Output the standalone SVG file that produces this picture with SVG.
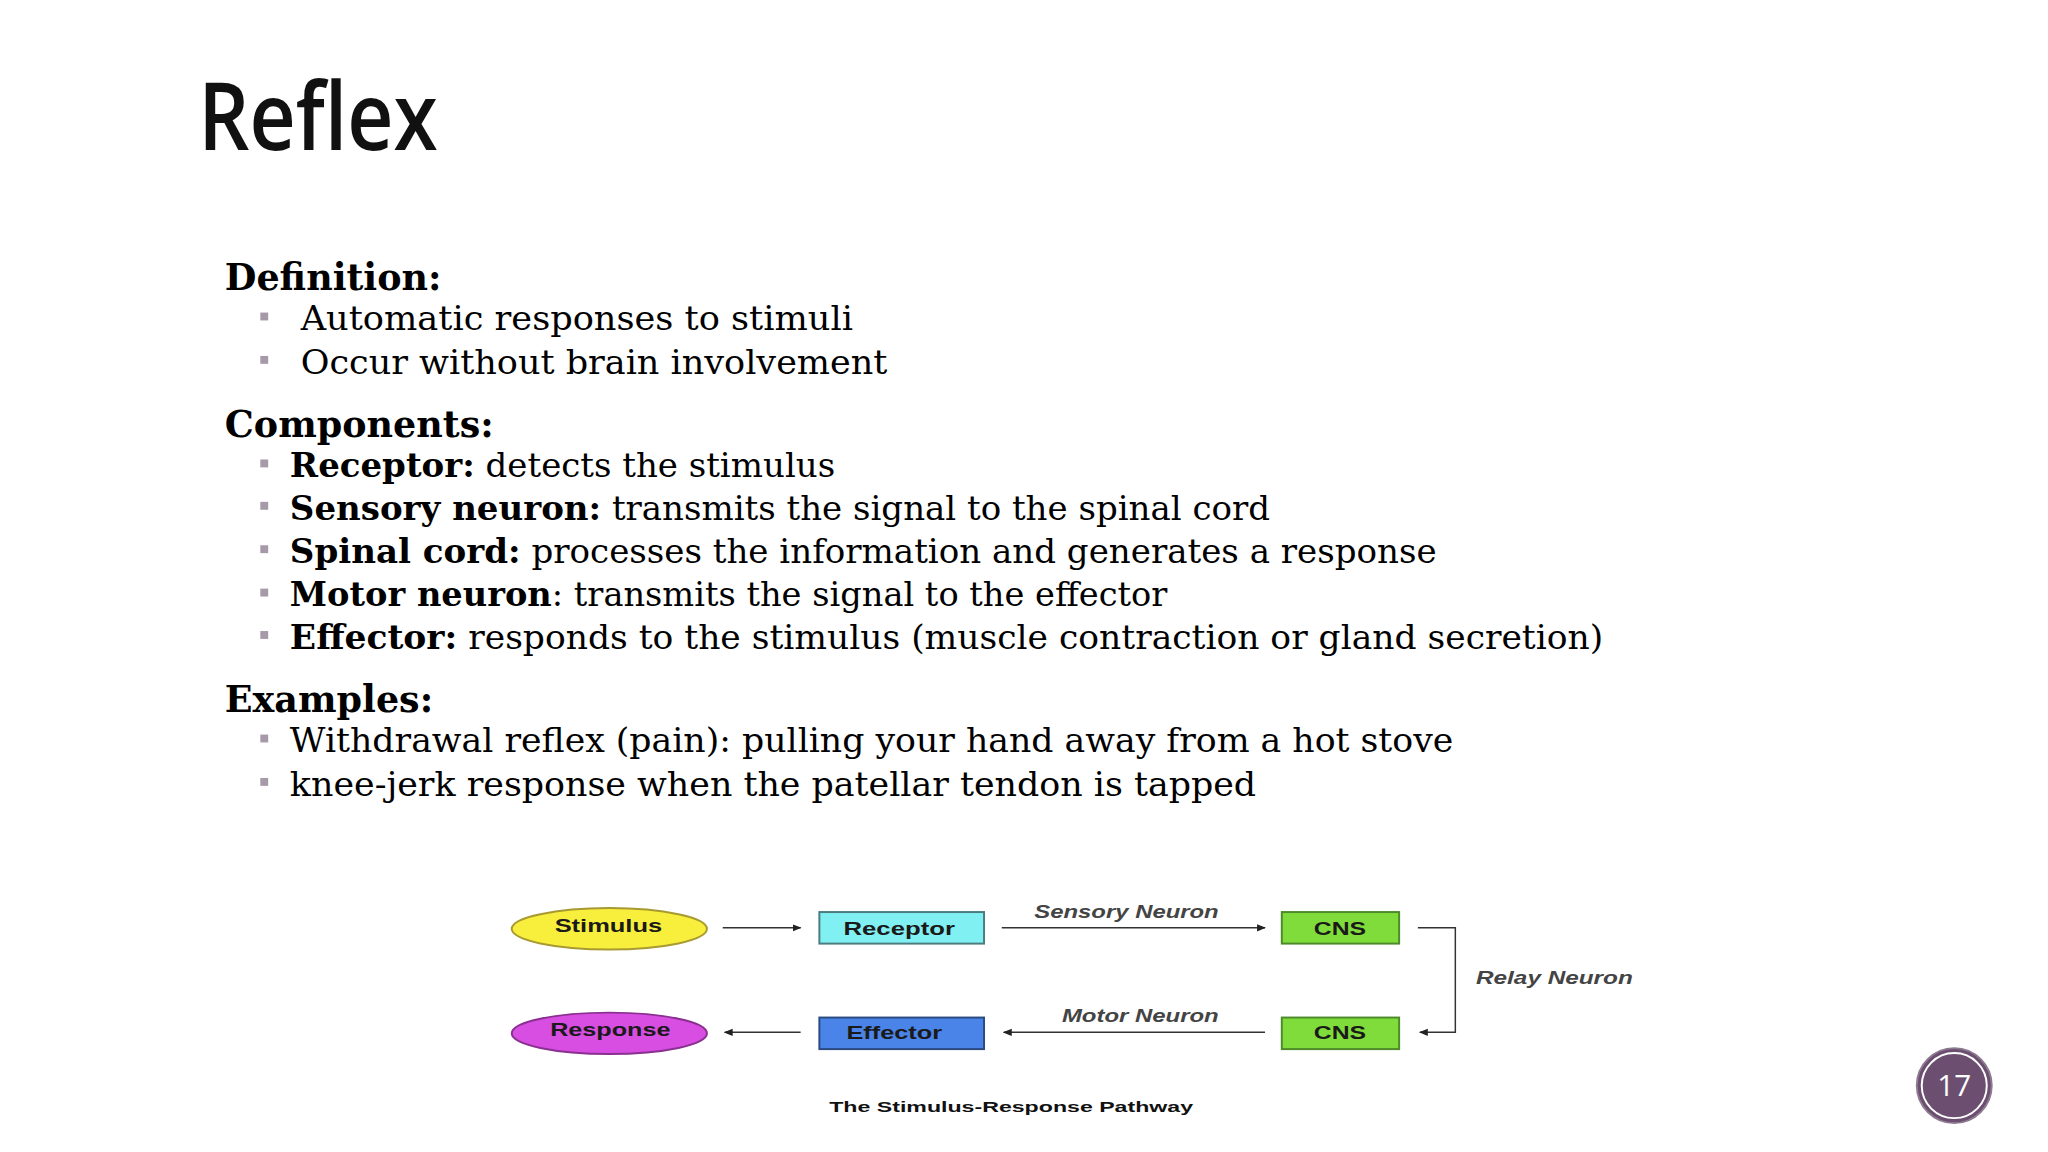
<svg xmlns="http://www.w3.org/2000/svg" width="2048" height="1152" viewBox="0 0 2048 1152">
<defs>
<style>
.b{font-family:"DejaVu Serif","Liberation Serif",serif;font-size:34px;fill:#000}
.h{font-family:"DejaVu Serif","Liberation Serif",serif;font-size:37px;font-weight:bold;fill:#000}
.bl{fill:#a79aa8}
.n{font-family:"Liberation Sans",Arial,sans-serif;font-size:18px;font-weight:bold;fill:#1a1a1a;text-anchor:middle}
.lb{font-family:"Liberation Sans",Arial,sans-serif;font-size:18px;font-style:italic;font-weight:bold;fill:#444}
.c{stroke:#333;stroke-width:1.5;fill:none}
</style>
<marker id="a" viewBox="0 0 10 10" refX="9" refY="5" markerWidth="6" markerHeight="6" orient="auto"><path d="M0,1 L10,5 L0,9 z" fill="#222"/></marker>
</defs>
<rect width="2048" height="1152" fill="#fff"/>
<g transform="scale(0.986)">
<text x="201" y="152" font-family="'Open Sans',Lato,sans-serif" font-size="96" font-weight="600" fill="#111" textLength="243" lengthAdjust="spacingAndGlyphs">Reflex</text>

<text class="h" x="228" y="294">Definition:</text>
<rect class="bl" x="264" y="317" width="8" height="8"/>
<text class="b" x="305" y="335" textLength="560" lengthAdjust="spacingAndGlyphs">Automatic responses to stimuli</text>
<rect class="bl" x="264" y="361" width="8" height="8"/>
<text class="b" x="305" y="379" textLength="595" lengthAdjust="spacingAndGlyphs">Occur without brain involvement</text>

<text class="h" x="228" y="443">Components:</text>
<rect class="bl" x="264" y="466" width="8" height="8"/>
<text class="b" x="294" y="484" textLength="553" lengthAdjust="spacingAndGlyphs"><tspan font-weight="bold">Receptor:</tspan> detects the stimulus</text>
<rect class="bl" x="264" y="509" width="8" height="8"/>
<text class="b" x="294" y="527" textLength="994" lengthAdjust="spacingAndGlyphs"><tspan font-weight="bold">Sensory neuron:</tspan> transmits the signal to the spinal cord</text>
<rect class="bl" x="264" y="553" width="8" height="8"/>
<text class="b" x="294" y="571" textLength="1163" lengthAdjust="spacingAndGlyphs"><tspan font-weight="bold">Spinal cord:</tspan> processes the information and generates a response</text>
<rect class="bl" x="264" y="597" width="8" height="8"/>
<text class="b" x="294" y="615" textLength="890" lengthAdjust="spacingAndGlyphs"><tspan font-weight="bold">Motor neuron</tspan>: transmits the signal to the effector</text>
<rect class="bl" x="264" y="640" width="8" height="8"/>
<text class="b" x="294" y="658" textLength="1332" lengthAdjust="spacingAndGlyphs"><tspan font-weight="bold">Effector:</tspan> responds to the stimulus (muscle contraction or gland secretion)</text>

<text class="h" x="228" y="722">Examples:</text>
<rect class="bl" x="264" y="745" width="8" height="8"/>
<text class="b" x="294" y="763" textLength="1180" lengthAdjust="spacingAndGlyphs">Withdrawal reflex (pain): pulling your hand away from a hot stove</text>
<rect class="bl" x="264" y="789" width="8" height="8"/>
<text class="b" x="294" y="807" textLength="980" lengthAdjust="spacingAndGlyphs">knee-jerk response when the patellar tendon is tapped</text>

<g id="connectors">
<line class="c" x1="733" y1="941" x2="812" y2="941" marker-end="url(#a)"/>
<line class="c" x1="1016" y1="941" x2="1283" y2="941" marker-end="url(#a)"/>
<polyline class="c" points="1438,941 1476,941 1476,1047 1440,1047" marker-end="url(#a)"/>
<line class="c" x1="1283" y1="1047" x2="1018" y2="1047" marker-end="url(#a)"/>
<line class="c" x1="812" y1="1047" x2="735" y2="1047" marker-end="url(#a)"/>
<text class="lb" x="1049" y="931" textLength="187" lengthAdjust="spacingAndGlyphs">Sensory Neuron</text>
<text class="lb" x="1077" y="1037" textLength="159" lengthAdjust="spacingAndGlyphs">Motor Neuron</text>
<text class="lb" x="1497" y="998" textLength="159" lengthAdjust="spacingAndGlyphs">Relay Neuron</text>
</g>
<g id="stimulus"><ellipse cx="618" cy="942" rx="99" ry="21" fill="#f7ef3c" stroke="#a89a30" stroke-width="2"/><text class="n" x="617" y="945" textLength="109" lengthAdjust="spacingAndGlyphs">Stimulus</text></g>
<g id="receptor"><rect x="831" y="925" width="167" height="32" fill="#80f0f2" stroke="#4a7c80" stroke-width="2"/><text class="n" x="912" y="948" textLength="113" lengthAdjust="spacingAndGlyphs">Receptor</text></g>
<g id="cns1"><rect x="1300" y="925" width="119" height="32" fill="#7fdc3a" stroke="#4d8a2a" stroke-width="2"/><text class="n" x="1359" y="948" textLength="53" lengthAdjust="spacingAndGlyphs">CNS</text></g>
<g id="response"><ellipse cx="618" cy="1048" rx="99" ry="21" fill="#d84de2" stroke="#8a3090" stroke-width="2"/><text class="n" x="619" y="1051" textLength="122" lengthAdjust="spacingAndGlyphs">Response</text></g>
<g id="effector"><rect x="831" y="1032" width="167" height="32" fill="#4a84e8" stroke="#2a4a80" stroke-width="2"/><text class="n" x="907" y="1054" textLength="97" lengthAdjust="spacingAndGlyphs">Effector</text></g>
<g id="cns2"><rect x="1300" y="1032" width="119" height="32" fill="#7fdc3a" stroke="#4d8a2a" stroke-width="2"/><text class="n" x="1359" y="1054" textLength="53" lengthAdjust="spacingAndGlyphs">CNS</text></g>
<text x="841" y="1128" font-family="'Liberation Sans',Arial,sans-serif" font-size="15" font-weight="bold" fill="#111" textLength="369" lengthAdjust="spacingAndGlyphs">The Stimulus-Response Pathway</text>

<g id="page">
<circle cx="1982" cy="1101" r="38" fill="#6b4e70" stroke="#8d7a90" stroke-width="2"/>
<circle cx="1982" cy="1101" r="33" fill="none" stroke="#fff" stroke-width="2"/>
<text x="1982" y="1112" font-family="'Open Sans',sans-serif" font-size="30" fill="#fff" text-anchor="middle">17</text>
</g>
</g>
</svg>
